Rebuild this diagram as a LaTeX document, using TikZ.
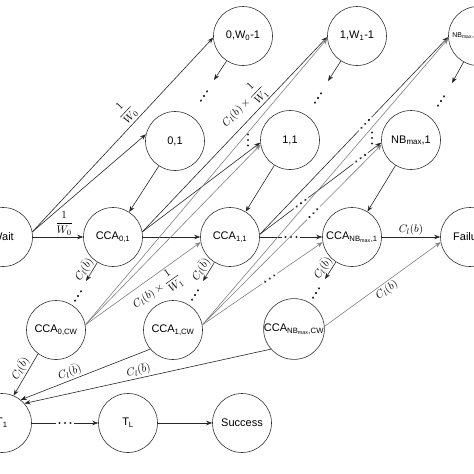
\documentclass[tikz,border=0pt]{standalone}
\usepackage{amsmath}
\usepackage{fontspec}
\setmainfont{Liberation Sans}
\usetikzlibrary{arrows.meta}
\begin{document}
\begin{tikzpicture}[x=1pt,y=-1pt,
  st/.style={draw=black!80, circle, minimum size=59pt, inner sep=0pt, line width=0.6pt, font=\fontsize{11}{13}\selectfont},
  blk/.style={draw=black!85, line width=0.6pt, -{Stealth[length=6pt,width=4.5pt]}},
  gry/.style={draw=black!50, line width=0.6pt, -{Stealth[length=6pt,width=4.5pt]}},
  lab/.style={font=\fontsize{11}{13}\selectfont, inner sep=1.5pt},
  threedots/.pic={\fill[black!85] (-5.5pt,0pt) circle (1.2pt) (0pt,0pt) circle (1.2pt) (5.5pt,0pt) circle (1.2pt);},
  gapdots/.pic={\fill[white] (-9pt,-2.5pt) rectangle (9pt,2.5pt);
    \fill[black!85] (-5.5pt,0pt) circle (1.2pt) (0pt,0pt) circle (1.2pt) (5.5pt,0pt) circle (1.2pt);}
]
\useasboundingbox (0,0) rectangle (474,474);
% states
\node[st] (Wt) at (3,237) {Wait};
\node[st] (W0) at (243,36) {0,W\textsubscript{0}-1};
\node[st] (W1) at (357,36) {1,W\textsubscript{1}-1};
\node[st] (WN) at (478,36) {\fontsize{7}{8}\selectfont NB\textsubscript{max},W\textsubscript{NBmax}-1};
\node[st] (s01) at (175,141) {0,1};
\node[st] (s11) at (290,140) {1,1};
\node[st] (sN1) at (411,140) {NB\raisebox{-1pt}{\fontsize{8}{8}\selectfont max},1};
\node[st] (C01) at (113,237) {CCA\textsubscript{0,1}};
\node[st] (C11) at (230,237) {CCA\textsubscript{1,1}};
\node[st] (CN1) at (352,237) {CCA\textsubscript{NB\textsubscript{max},1}};
\node[st] (F) at (470,237) {Failure};
\node[st] (C0W) at (56,330) {CCA\textsubscript{0,CW}};
\node[st] (C1W) at (173,330) {CCA\textsubscript{1,CW}};
\node[st] (CNW) at (294,329) {CCA\textsubscript{NB\textsubscript{max},CW}};
\node[st] (T1) at (2,423) {T\textsubscript{1}};
\node[st] (TL) at (128,423) {T\textsubscript{L}};
\node[st] (S) at (242,423) {Success};
% free ends of the short arrows
\coordinate (a0) at (214,80);
\coordinate (a1) at (328,81);
\coordinate (a2) at (452,83);
\coordinate (b0) at (86,281);
\coordinate (b1) at (203,281);
\coordinate (b2) at (325,279);
% from Wait
\draw[blk] (Wt.10) -- (W0.183) node[lab, sloped, above, pos=0.57] {$\dfrac{1}{W_0}$};
\draw[blk] (Wt.10) -- (s01.167);
\draw[blk] (Wt.east) -- (C01.west) node[lab, above, pos=0.62] {$\dfrac{1}{W_0}$};
% backoff chains
\draw[blk] (W0) -- (a0);
\pic[rotate=57] at (204,96) {threedots};
\draw[blk] (W1) -- (a1);
\pic[rotate=57] at (318,98) {threedots};
\draw[blk] (WN) -- (a2);
\pic[rotate=57] at (441,101) {threedots};
\draw[blk] (s01) -- (C01);
\draw[blk] (s11) -- (C11);
\draw[blk] (sN1) -- (CN1);
% CCA to CW
\draw[blk] (C01) -- (b0) node[lab, sloped, above, pos=0.6] {$C_l(\bar b)$};
\pic[rotate=58] at (78,296) {threedots};
\draw[blk] (C11) -- (b1) node[lab, sloped, above, pos=0.6] {$C_l(\bar b)$};
\pic[rotate=58] at (195,295) {threedots};
\draw[blk] (CN1) -- (b2) node[lab, sloped, above, pos=0.6] {$C_l(\bar b)$};
\pic[rotate=58] at (316,293) {threedots};
% horizontal
\draw[blk] (C01) -- (C11);
\draw[blk] (C11) -- (CN1) pic[pos=0.5]{gapdots};
\draw[blk] (CN1) -- (F) node[lab, above, midway] {$C_l(b)$};
\draw[gry] (CNW.5) -- (F.190) node[lab, sloped, below, pos=0.5] {$C_l(b)$};
\draw[blk] (T1) -- (TL) pic[pos=0.5]{gapdots};
\draw[blk] (TL) -- (S);
% to T1
\draw[blk] (C0W.233) -- (T1.67) node[lab, sloped, above, pos=0.45] {$C_l(\bar b)$};
\draw[blk] (C1W.220) -- (T1.51) node[lab, sloped, above, pos=0.6] {$C_l(\bar b)$};
\draw[blk] (CNW.221) -- (T1.41) node[lab, sloped, above, pos=0.53] {$C_l(\bar b)$};
% column 0 to column 1
\draw[blk] (C01.10) -- (W1.182) node[lab, sloped, above, pos=0.6] {$C_l(b)\times\dfrac{1}{W_1}$};
\draw[blk] (C01.10) -- (s11.185);
\draw[gry] (C0W.10) -- (W1.185);
\draw[gry] (C0W.10) -- (s11.189);
\draw[gry] (C0W.10) -- (C11.190) node[lab, sloped, below, pos=0.55] {$C_l(b)\times\dfrac{1}{W_1}$};
\pic[rotate=90] at (248,140) {threedots};
% column 1 to column NBmax
\draw[blk] (C11.5) -- (WN.182) pic[pos=0.56, sloped]{gapdots};
\draw[blk] (C11.5) -- (sN1.185) pic[pos=0.34, sloped]{gapdots} pic[pos=0.83, sloped]{gapdots};
\draw[gry] (C1W.10) -- (WN.185);
\draw[gry] (C1W.10) -- (sN1.189) pic[pos=0.62, sloped]{gapdots};
\draw[gry] (C1W.10) -- (CN1.190) pic[pos=0.56, sloped]{gapdots};
\pic[rotate=90] at (372,138) {threedots};
\end{tikzpicture}
\end{document}
